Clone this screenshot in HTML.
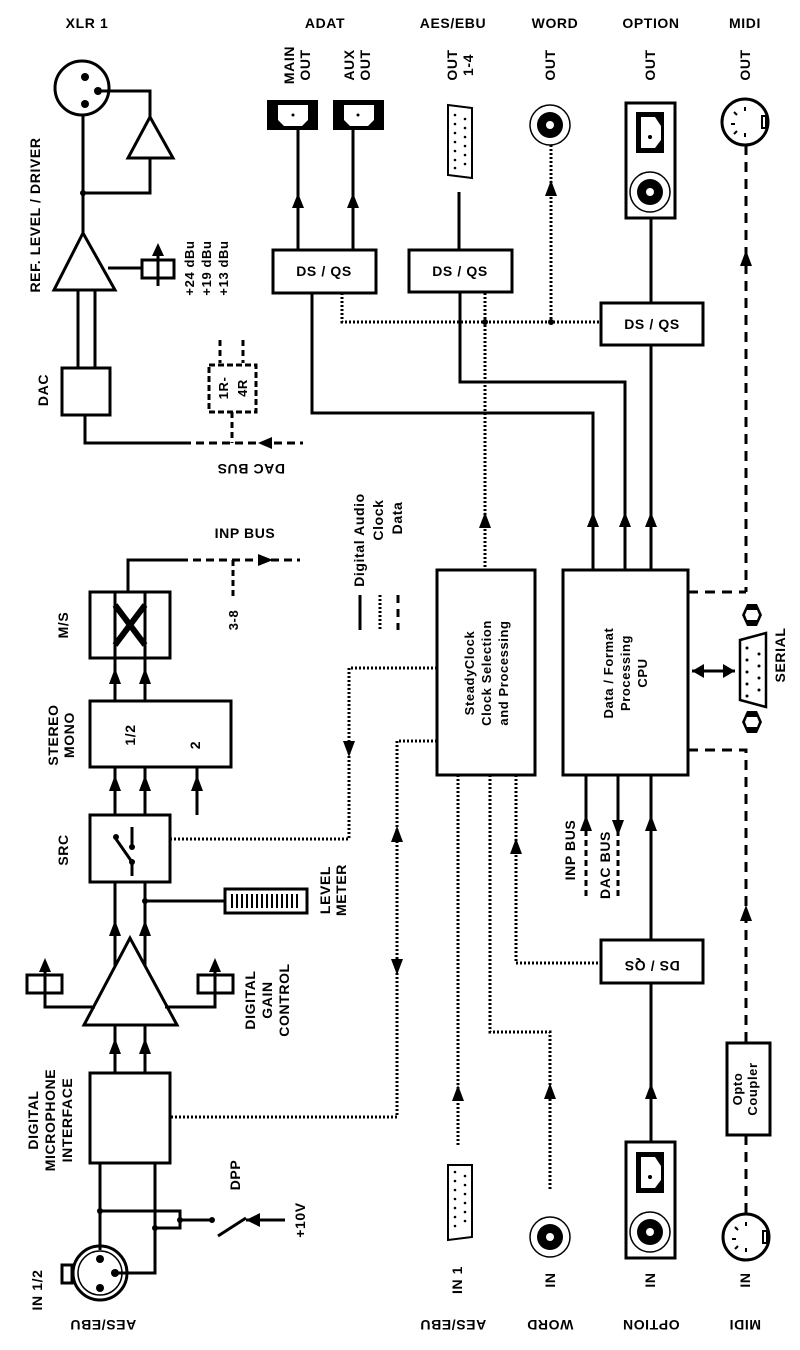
<!DOCTYPE html>
<html><head><meta charset="utf-8"><style>
html,body{margin:0;padding:0;background:#fff}
svg{display:block}
text{font-family:"Liberation Sans",sans-serif;font-weight:bold;fill:#000;letter-spacing:0.6px}
</style></head><body>
<svg width="800" height="1350" viewBox="0 0 800 1350" xmlns="http://www.w3.org/2000/svg">
<g fill="none" stroke="#000" stroke-width="3">
<circle cx="82" cy="88" r="27"/>
<polyline points="98,91 150,91 150,117"/>
<polygon points="150,117 128,158 173,158"/>
<polyline points="150,158 150,193 83,193"/>
<line x1="83" y1="115" x2="83" y2="233"/>
<polygon points="83,233 54,290 115,290"/>
<line x1="78" y1="290" x2="78" y2="368"/>
<line x1="95" y1="290" x2="95" y2="368"/>
<line x1="108" y1="268" x2="142" y2="268"/>
<rect x="142" y="260" width="32" height="18"/>
<line x1="158" y1="250" x2="158" y2="286"/>
<rect x="62" y="368" width="48" height="47"/>
<polyline points="85,415 85,443 183,443"/>
<line x1="183" y1="443" x2="303" y2="443" stroke-dasharray="8 5"/>
<rect x="209" y="365" width="47" height="47" stroke-dasharray="6 3"/>
<line x1="220" y1="340" x2="220" y2="363" stroke-dasharray="6 4"/>
<line x1="243" y1="340" x2="243" y2="363" stroke-dasharray="6 4"/>
<line x1="232" y1="412" x2="232" y2="443" stroke-dasharray="6 4"/>
<line x1="298" y1="130" x2="298" y2="250"/>
<line x1="353" y1="130" x2="353" y2="250"/>
<rect x="273" y="250" width="103" height="43"/>
<polyline points="312,293 312,413 593,413 593,570"/>
<polyline points="342,293 342,322 600,322" stroke-dasharray="2 2"/>
<line x1="459" y1="192" x2="459" y2="250"/>
<rect x="409" y="250" width="103" height="42"/>
<polyline points="460,292 460,382 625,382 625,570"/>
<line x1="485" y1="293" x2="485" y2="570" stroke-dasharray="2 2"/>
<circle cx="550" cy="125" r="20" stroke-width="1.5"/>
<line x1="551" y1="145" x2="551" y2="322" stroke-dasharray="2 2"/>
<rect x="626" y="103" width="49" height="115"/>
<circle cx="650" cy="192" r="20" stroke-width="1.5"/>
<line x1="651" y1="218" x2="651" y2="303"/>
<rect x="601" y="303" width="102" height="42"/>
<line x1="651" y1="345" x2="651" y2="570"/>
<circle cx="745" cy="122" r="23"/>
<line x1="746" y1="145" x2="746" y2="592" stroke-dasharray="10 7"/>
<line x1="360" y1="595" x2="360" y2="630"/>
<line x1="380" y1="595" x2="380" y2="630" stroke-dasharray="2 2"/>
<line x1="398" y1="595" x2="398" y2="630" stroke-dasharray="8 6"/>
<polyline points="128,592 128,560 180,560"/>
<line x1="180" y1="560" x2="300" y2="560" stroke-dasharray="8 5"/>
<line x1="233" y1="560" x2="233" y2="600" stroke-dasharray="6 4"/>
<rect x="90" y="592" width="80" height="66"/>
<line x1="115" y1="592" x2="115" y2="658"/>
<line x1="145" y1="592" x2="145" y2="658"/>
<line x1="115" y1="605" x2="145" y2="645" stroke-width="6"/>
<line x1="145" y1="605" x2="115" y2="645" stroke-width="6"/>
<line x1="115" y1="658" x2="115" y2="701"/>
<line x1="145" y1="658" x2="145" y2="701"/>
<rect x="90" y="701" width="141" height="66"/>
<line x1="115" y1="767" x2="115" y2="815"/>
<line x1="145" y1="767" x2="145" y2="815"/>
<line x1="197" y1="767" x2="197" y2="815"/>
<rect x="90" y="815" width="80" height="67"/>
<line x1="132" y1="827" x2="132" y2="845"/>
<line x1="116" y1="839" x2="132" y2="862"/>
<line x1="132" y1="862" x2="132" y2="876"/>
<polyline points="170,839 349,839 349,668 437,668" stroke-dasharray="2 2"/>
<polyline points="437,741 397,741 397,1117 170,1117" stroke-dasharray="2 2"/>
<line x1="115" y1="882" x2="115" y2="966"/>
<line x1="145" y1="882" x2="145" y2="966"/>
<line x1="145" y1="901" x2="225" y2="901"/>
<rect x="225" y="889" width="82" height="24"/>
<polygon points="130,938 84,1025 177,1025"/>
<polyline points="45,965 45,1007 95,1007"/>
<rect x="27" y="975" width="35" height="18"/>
<polyline points="215,965 215,1007 165,1007"/>
<rect x="198" y="975" width="35" height="18"/>
<line x1="115" y1="1025" x2="115" y2="1073"/>
<line x1="145" y1="1025" x2="145" y2="1073"/>
<rect x="90" y="1073" width="80" height="90"/>
<line x1="100" y1="1163" x2="100" y2="1250"/>
<polyline points="155,1163 155,1273 115,1273"/>
<polyline points="100,1211 180,1211 180,1228 155,1228"/>
<line x1="180" y1="1220" x2="212" y2="1220"/>
<line x1="218" y1="1236" x2="246" y2="1218"/>
<line x1="246" y1="1220" x2="285" y2="1220"/>
<circle cx="100" cy="1273" r="27"/>
<circle cx="100" cy="1273" r="22" stroke-width="1.5"/>
<rect x="62" y="1265" width="10" height="18"/>
<rect x="437" y="570" width="98" height="205"/>
<rect x="563" y="570" width="125" height="205"/>
<polyline points="688,592 746,592" stroke-dasharray="10 7"/>
<polyline points="688,750 746,750 746,1043" stroke-dasharray="10 7"/>
<line x1="692" y1="671" x2="735" y2="671"/>
<path d="M740,640 L766,633 L766,707 L740,700 Z" stroke-width="2.5"/>
<line x1="458" y1="775" x2="458" y2="1145" stroke-dasharray="2 2"/>
<polyline points="490,775 490,1032 550,1032 550,1190" stroke-dasharray="2 2"/>
<polyline points="516,775 516,963 601,963" stroke-dasharray="2 2"/>
<line x1="586" y1="775" x2="586" y2="830"/>
<line x1="586" y1="830" x2="586" y2="900" stroke-dasharray="6 4"/>
<line x1="618" y1="775" x2="618" y2="830"/>
<line x1="618" y1="830" x2="618" y2="900" stroke-dasharray="6 4"/>
<line x1="651" y1="775" x2="651" y2="940"/>
<rect x="601" y="940" width="102" height="43"/>
<line x1="651" y1="983" x2="651" y2="1142"/>
<rect x="626" y="1142" width="49" height="116"/>
<circle cx="650" cy="1232" r="20" stroke-width="1.5"/>
<circle cx="550" cy="1237" r="20" stroke-width="1.5"/>
<rect x="727" y="1043" width="43" height="92"/>
<line x1="746" y1="1135" x2="746" y2="1215" stroke-dasharray="10 7"/>
<circle cx="746" cy="1237" r="23"/>
<path d="M448,105 L472,108 L472,178 L448,175 Z" stroke-width="2"/>
<path d="M448,1165 L472,1165 L472,1237 L448,1240 Z" stroke-width="2"/>
<!-- DIN pins -->
<g stroke-width="2">
<line x1="734" y1="112" x2="737" y2="115"/><line x1="745" y1="107" x2="745" y2="111"/><line x1="731" y1="124" x2="735" y2="124"/><line x1="734" y1="134" x2="737" y2="131"/><line x1="745" y1="137" x2="745" y2="133"/>
<line x1="735" y1="1227" x2="738" y2="1230"/><line x1="746" y1="1222" x2="746" y2="1226"/><line x1="732" y1="1239" x2="736" y2="1239"/><line x1="735" y1="1249" x2="738" y2="1246"/><line x1="746" y1="1252" x2="746" y2="1248"/>
</g>
<rect x="762" y="116" width="4" height="12" stroke-width="2"/>
<rect x="763" y="1231" width="4" height="12" stroke-width="2"/>
</g>
<g fill="#000">
<g>
<circle cx="455" cy="115" r="1.3"/><circle cx="455" cy="124" r="1.3"/><circle cx="455" cy="133" r="1.3"/><circle cx="455" cy="142" r="1.3"/><circle cx="455" cy="151" r="1.3"/><circle cx="455" cy="160" r="1.3"/><circle cx="455" cy="168" r="1.3"/>
<circle cx="465" cy="119" r="1.3"/><circle cx="465" cy="128" r="1.3"/><circle cx="465" cy="137" r="1.3"/><circle cx="465" cy="146" r="1.3"/><circle cx="465" cy="155" r="1.3"/><circle cx="465" cy="164" r="1.3"/>
<circle cx="455" cy="1172" r="1.3"/><circle cx="455" cy="1181" r="1.3"/><circle cx="455" cy="1190" r="1.3"/><circle cx="455" cy="1199" r="1.3"/><circle cx="455" cy="1208" r="1.3"/><circle cx="455" cy="1217" r="1.3"/><circle cx="455" cy="1226" r="1.3"/>
<circle cx="465" cy="1176" r="1.3"/><circle cx="465" cy="1185" r="1.3"/><circle cx="465" cy="1194" r="1.3"/><circle cx="465" cy="1203" r="1.3"/><circle cx="465" cy="1212" r="1.3"/><circle cx="465" cy="1221" r="1.3"/>
<circle cx="747" cy="648" r="1.5"/><circle cx="747" cy="660" r="1.5"/><circle cx="747" cy="672" r="1.5"/><circle cx="747" cy="684" r="1.5"/><circle cx="747" cy="696" r="1.5"/>
<circle cx="759" cy="654" r="1.5"/><circle cx="759" cy="666" r="1.5"/><circle cx="759" cy="678" r="1.5"/><circle cx="759" cy="690" r="1.5"/>
</g>
<circle cx="85" cy="77" r="4"/><circle cx="98" cy="91" r="4"/><circle cx="85" cy="104" r="4"/>
<circle cx="83" cy="193" r="3"/>
<polygon points="158,243 152,256 164,256"/>
<polygon points="258,443 272,437 272,449"/>
<path d="M267,100 H318 V130 H267 Z M278,105 V120 L284,126 H302 L308,120 V105 Z" fill-rule="evenodd"/>
<path d="M333,100 H384 V130 H333 Z M344,105 V120 L350,126 H368 L374,120 V105 Z" fill-rule="evenodd"/>
<circle cx="293" cy="115" r="1.5"/><circle cx="358" cy="115" r="1.5"/>
<polygon points="298,193 292,208 304,208"/>
<polygon points="353,193 347,208 359,208"/>
<circle cx="551" cy="322" r="3"/><circle cx="485" cy="322" r="3"/>
<polygon points="551,180 545,196 557,196"/>
<polygon points="485,512 479,528 491,528"/>
<polygon points="746,250 740,266 752,266"/>
<circle cx="550" cy="125" r="13"/><circle cx="550" cy="125" r="4" fill="#fff"/>
<path d="M636,112 H664 V153 H636 Z M641,117 V148 H655 L661,140 V126 L655,117 Z" fill-rule="evenodd"/>
<circle cx="650" cy="137" r="2"/>
<circle cx="650" cy="192" r="13"/><circle cx="650" cy="192" r="4" fill="#fff"/>
<circle cx="650" cy="1232" r="13"/><circle cx="650" cy="1232" r="4" fill="#fff"/>
<path d="M636,1152 H664 V1193 H636 Z M641,1157 V1188 H655 L661,1180 V1166 L655,1157 Z" fill-rule="evenodd"/>
<circle cx="650" cy="1177" r="2"/>
<circle cx="550" cy="1237" r="13"/><circle cx="550" cy="1237" r="4" fill="#fff"/>
<polygon points="593,512 587,527 599,527"/>
<polygon points="625,512 619,527 631,527"/>
<polygon points="651,512 645,527 657,527"/>
<polygon points="115,668 109,684 121,684"/>
<polygon points="145,668 139,684 151,684"/>
<polygon points="115,775 109,791 121,791"/>
<polygon points="145,775 139,791 151,791"/>
<polygon points="197,775 191,791 203,791"/>
<polygon points="115,920 109,936 121,936"/>
<polygon points="145,920 139,936 151,936"/>
<polygon points="349,757 343,741 355,741"/>
<polygon points="115,1038 109,1054 121,1054"/>
<polygon points="145,1038 139,1054 151,1054"/>
<polygon points="45,958 39,972 51,972"/>
<polygon points="215,958 209,972 221,972"/>
<polygon points="273,560 258,554 258,566"/>
<circle cx="145" cy="901" r="3"/>
<polygon points="397,826 391,842 403,842"/>
<polygon points="397,975 391,959 403,959"/>
<polygon points="586,815 580,831 592,831"/>
<polygon points="618,836 612,820 624,820"/>
<polygon points="651,815 645,831 657,831"/>
<polygon points="516,838 510,854 522,854"/>
<polygon points="458,1085 452,1101 464,1101"/>
<polygon points="550,1083 544,1099 556,1099"/>
<polygon points="651,1083 645,1099 657,1099"/>
<polygon points="746,905 740,921 752,921"/>
<polygon points="692,671 704,664 704,678"/>
<polygon points="735,671 723,664 723,678"/>
<polygon points="747,604 757,604 762,615 757,626 747,626 742,615"/>
<polygon points="747,711 757,711 762,722 757,733 747,733 742,722"/>
<circle cx="100" cy="1211" r="3"/><circle cx="155" cy="1228" r="3"/><circle cx="180" cy="1220" r="3"/><circle cx="212" cy="1220" r="3"/>
<polygon points="246,1220 260,1213 260,1227"/>
<circle cx="100" cy="1259" r="4"/><circle cx="115" cy="1273" r="4"/><circle cx="100" cy="1288" r="4"/>
<circle cx="132" cy="847" r="3"/><circle cx="116" cy="837" r="3"/><circle cx="132" cy="862" r="3"/>
</g>
<g fill="#fff"><polygon points="747,610 757,610 759,615 757,620 747,620 745,615"/><polygon points="747,717 757,717 759,722 757,727 747,727 745,722"/></g>
<g fill="#000">
<rect x="231" y="894" width="2" height="14"/><rect x="236" y="894" width="2" height="14"/><rect x="241" y="894" width="2" height="14"/><rect x="246" y="894" width="2" height="14"/><rect x="251" y="894" width="2" height="14"/><rect x="256" y="894" width="2" height="14"/><rect x="261" y="894" width="2" height="14"/><rect x="266" y="894" width="2" height="14"/><rect x="271" y="894" width="2" height="14"/><rect x="276" y="894" width="2" height="14"/><rect x="281" y="894" width="2" height="14"/><rect x="286" y="894" width="2" height="14"/><rect x="291" y="894" width="2" height="14"/><rect x="296" y="894" width="2" height="14"/>
</g>
<g font-size="14">
<text x="87" y="28" text-anchor="middle">XLR 1</text>
<text x="325" y="28" text-anchor="middle">ADAT</text>
<text x="453" y="28" text-anchor="middle">AES/EBU</text>
<text x="555" y="28" text-anchor="middle">WORD</text>
<text x="651" y="28" text-anchor="middle">OPTION</text>
<text x="745" y="28" text-anchor="middle">MIDI</text>
<text transform="translate(40,215) rotate(-90)" text-anchor="middle">REF. LEVEL / DRIVER</text>
<text transform="translate(48,390) rotate(-90)" text-anchor="middle">DAC</text>
<text transform="translate(194,268) rotate(-90)" text-anchor="middle" font-size="13">+24 dBu</text>
<text transform="translate(211,268) rotate(-90)" text-anchor="middle" font-size="13">+19 dBu</text>
<text transform="translate(228,268) rotate(-90)" text-anchor="middle" font-size="13">+13 dBu</text>
<text transform="translate(228,388) rotate(-90)" text-anchor="middle" font-size="13">1R-</text>
<text transform="translate(247,388) rotate(-90)" text-anchor="middle" font-size="13">4R</text>
<text transform="translate(251,464) rotate(180)" text-anchor="middle">DAC BUS</text>
<text transform="translate(294,65) rotate(-90)" text-anchor="middle">MAIN</text>
<text transform="translate(310,65) rotate(-90)" text-anchor="middle">OUT</text>
<text transform="translate(354,65) rotate(-90)" text-anchor="middle">AUX</text>
<text transform="translate(370,65) rotate(-90)" text-anchor="middle">OUT</text>
<text transform="translate(457,65) rotate(-90)" text-anchor="middle">OUT</text>
<text transform="translate(473,65) rotate(-90)" text-anchor="middle">1-4</text>
<text transform="translate(555,65) rotate(-90)" text-anchor="middle">OUT</text>
<text transform="translate(655,65) rotate(-90)" text-anchor="middle">OUT</text>
<text transform="translate(750,65) rotate(-90)" text-anchor="middle">OUT</text>
<text x="324" y="276" text-anchor="middle">DS / QS</text>
<text x="460" y="276" text-anchor="middle">DS / QS</text>
<text x="652" y="329" text-anchor="middle">DS / QS</text>
<text transform="translate(652,961) rotate(180)" text-anchor="middle">DS / QS</text>
<text transform="translate(364,540) rotate(-90)" text-anchor="middle">Digital Audio</text>
<text transform="translate(383,520) rotate(-90)" text-anchor="middle">Clock</text>
<text transform="translate(402,518) rotate(-90)" text-anchor="middle">Data</text>
<text x="245" y="538" text-anchor="middle">INP BUS</text>
<text transform="translate(238,620) rotate(-90)" text-anchor="middle" font-size="13">3-8</text>
<text transform="translate(68,625) rotate(-90)" text-anchor="middle">M/S</text>
<text transform="translate(58,735) rotate(-90)" text-anchor="middle">STEREO</text>
<text transform="translate(74,735) rotate(-90)" text-anchor="middle">MONO</text>
<text transform="translate(135,735) rotate(-90)" text-anchor="middle">1/2</text>
<text transform="translate(200,745) rotate(-90)" text-anchor="middle">2</text>
<text transform="translate(68,850) rotate(-90)" text-anchor="middle">SRC</text>
<text transform="translate(330,890) rotate(-90)" text-anchor="middle">LEVEL</text>
<text transform="translate(346,890) rotate(-90)" text-anchor="middle">METER</text>
<text transform="translate(255,1000) rotate(-90)" text-anchor="middle">DIGITAL</text>
<text transform="translate(272,1000) rotate(-90)" text-anchor="middle">GAIN</text>
<text transform="translate(289,1000) rotate(-90)" text-anchor="middle">CONTROL</text>
<text transform="translate(38,1120) rotate(-90)" text-anchor="middle">DIGITAL</text>
<text transform="translate(55,1120) rotate(-90)" text-anchor="middle">MICROPHONE</text>
<text transform="translate(72,1120) rotate(-90)" text-anchor="middle">INTERFACE</text>
<text transform="translate(240,1175) rotate(-90)" text-anchor="middle">DPP</text>
<text transform="translate(305,1220) rotate(-90)" text-anchor="middle">+10V</text>
<text transform="translate(42,1290) rotate(-90)" text-anchor="middle">IN 1/2</text>
<text transform="translate(103,1320) rotate(180)" text-anchor="middle">AES/EBU</text>
<text transform="translate(474,673) rotate(-90)" text-anchor="middle" font-size="13">SteadyClock</text>
<text transform="translate(491,673) rotate(-90)" text-anchor="middle" font-size="13">Clock Selection</text>
<text transform="translate(508,673) rotate(-90)" text-anchor="middle" font-size="13">and Processing</text>
<text transform="translate(613,673) rotate(-90)" text-anchor="middle" font-size="13">Data / Format</text>
<text transform="translate(630,673) rotate(-90)" text-anchor="middle" font-size="13">Processing</text>
<text transform="translate(647,673) rotate(-90)" text-anchor="middle" font-size="13">CPU</text>
<text transform="translate(785,655) rotate(-90)" text-anchor="middle">SERIAL</text>
<text transform="translate(575,850) rotate(-90)" text-anchor="middle">INP BUS</text>
<text transform="translate(610,865) rotate(-90)" text-anchor="middle">DAC BUS</text>
<text transform="translate(742,1089) rotate(-90)" text-anchor="middle" font-size="13">Opto</text>
<text transform="translate(757,1089) rotate(-90)" text-anchor="middle" font-size="13">Coupler</text>
<text transform="translate(462,1280) rotate(-90)" text-anchor="middle">IN 1</text>
<text transform="translate(555,1280) rotate(-90)" text-anchor="middle">IN</text>
<text transform="translate(655,1280) rotate(-90)" text-anchor="middle">IN</text>
<text transform="translate(750,1280) rotate(-90)" text-anchor="middle">IN</text>
<text transform="translate(453,1320) rotate(180)" text-anchor="middle">AES/EBU</text>
<text transform="translate(550,1320) rotate(180)" text-anchor="middle">WORD</text>
<text transform="translate(651,1320) rotate(180)" text-anchor="middle">OPTION</text>
<text transform="translate(745,1320) rotate(180)" text-anchor="middle">MIDI</text>
</g>
</svg>
</body></html>
